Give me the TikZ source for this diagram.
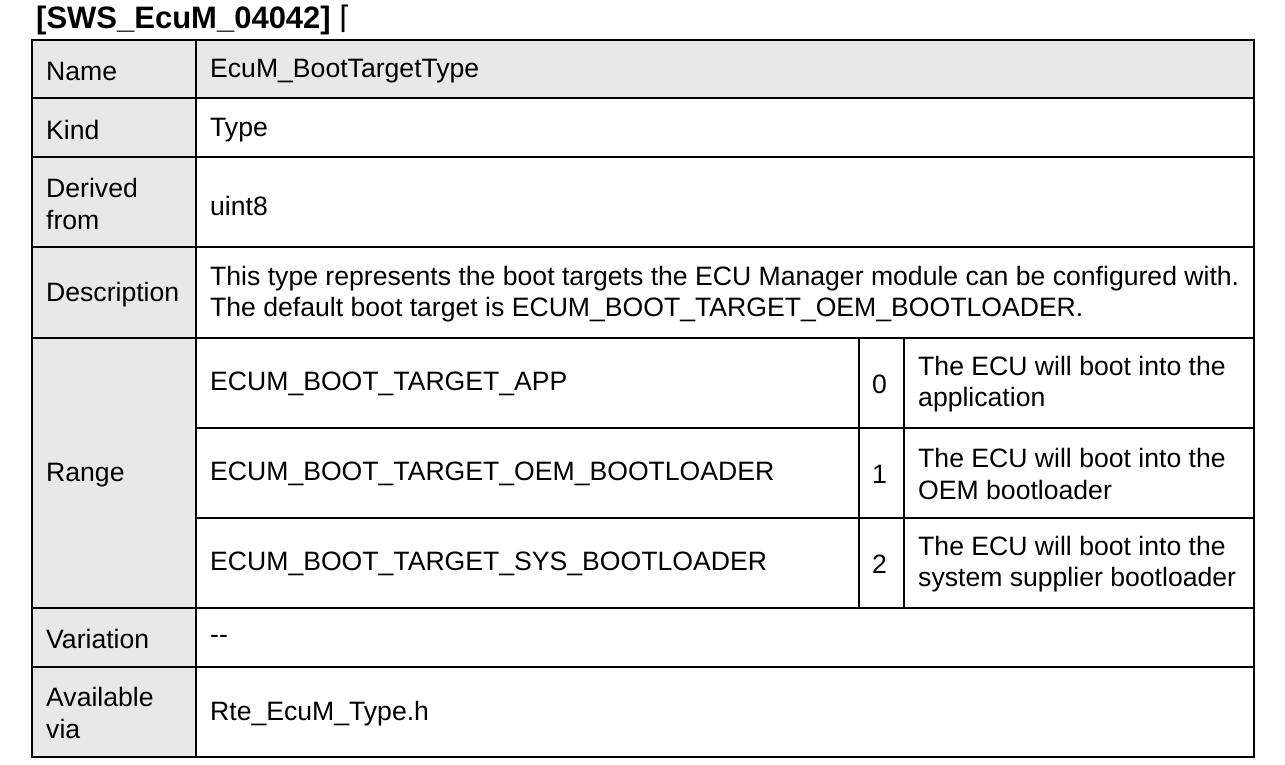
\documentclass[tikz,border=0pt]{standalone}
\usepackage{fontspec}
\setmainfont{Liberation Sans}
\newfontfamily\djv{DejaVu Sans}
\begin{document}
\begin{tikzpicture}[x=1pt,y=-1pt,
  cell/.style={anchor=west,font=\fontsize{26.6}{31.5}\selectfont,align=left,inner sep=0pt},
  grid/.style={line width=1.3pt,black}]
\useasboundingbox (0,0) rectangle (1285,764);
\fill[gray!18] (32,40) rectangle (1254,98);
\fill[gray!18] (32,98) rectangle (196,757);
\node[cell,font=\fontsize{31}{34}\selectfont\bfseries] (title) at (36,20) {[SWS\_EcuM\_04042] {\djv\mdseries ⌈}};
\draw[grid] (32,40) rectangle (1254,757);
\draw[grid] (196,40) -- (196,757);
\foreach \yy in {98,157,247,338,608,667} \draw[grid] (32,\yy) -- (1254,\yy);
\foreach \yy in {428,518} \draw[grid] (196,\yy) -- (1254,\yy);
\draw[grid] (859,338) -- (859,608);
\draw[grid] (904,338) -- (904,608);
\node[cell] (n1) at (46,71) {Name};
\node[cell] (v1) at (210,71) {EcuM\_BootTargetType};
\node[cell] (n2) at (46,130) {Kind};
\node[cell] (v2) at (210,130) {Type};
\node[cell] (n3) at (46,204) {Derived\\from};
\node[cell] (v3) at (210,206) {uint8};
\node[cell] (n4) at (46,295) {Description};
\node[cell] (v4) at (210,294) {This type represents the boot targets the ECU Manager module can be configured with.\\The default boot target is ECUM\_BOOT\_TARGET\_OEM\_BOOTLOADER.};
\node[cell] (n5) at (46,475) {Range};
\node[cell] (r1) at (210,384) {ECUM\_BOOT\_TARGET\_APP};
\node[cell] (r2) at (210,474) {ECUM\_BOOT\_TARGET\_OEM\_BOOTLOADER};
\node[cell] (r3) at (210,564) {ECUM\_BOOT\_TARGET\_SYS\_BOOTLOADER};
\node[cell] (k1) at (872,384) {0};
\node[cell] (k2) at (872,474) {1};
\node[cell] (k3) at (872,564) {2};
\node[cell] (d1) at (918,384) {The ECU will boot into the\\application};
\node[cell] (d2) at (918,474) {The ECU will boot into the\\OEM bootloader};
\node[cell] (d3) at (918,564) {The ECU will boot into the\\system supplier bootloader};
\node[cell] (n6) at (46,639) {Variation};
\node[cell] (v6) at (210,639) {{-}{-}};
\node[cell] (n7) at (46,713) {Available\\via};
\node[cell] (v7) at (210,714) {Rte\_EcuM\_Type.h};
\end{tikzpicture}
\end{document}
